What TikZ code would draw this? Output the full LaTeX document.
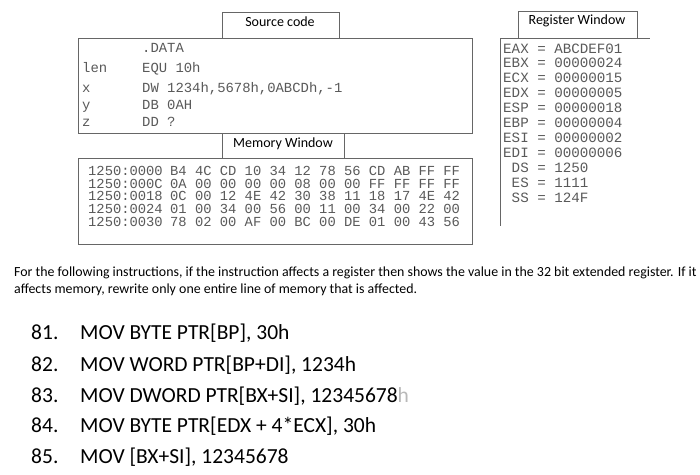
\documentclass[tikz,border=0pt]{standalone}
\usepackage{fontspec}
\setmainfont{Carlito}
\newfontfamily\monof{Liberation Mono}
\begin{document}
\begin{tikzpicture}[x=1pt,y=-1pt,
  box/.style={draw=gray!80!black,line width=0.8pt},
  src/.style={anchor=base west,inner sep=0,font=\monof\fontsize{13.9}{14}\selectfont,text=black!65},
  mem/.style={anchor=base west,inner sep=0,font=\monof\fontsize{13.8}{14}\selectfont,text=black!65},
  reg/.style={anchor=base west,inner sep=0,font=\monof\fontsize{14.2}{14}\selectfont,text=black!65},
  tab/.style={anchor=center,inner sep=0,font=\fontsize{14}{15}\selectfont},
  para/.style={anchor=base west,inner sep=0,font=\fontsize{13.9}{15}\selectfont},
  num/.style={anchor=base west,inner sep=0,font=\fontsize{21.5}{22}\selectfont},
  ins/.style={anchor=base west,inner sep=0,font=\fontsize{21.5}{22}\selectfont}]
\useasboundingbox (0,0) rectangle (700,474);
% source code
\draw[box] (222,38) -- (222,12) -- (339,12) -- (339,38);
\node[tab] (st) at (280,22) {Source code};
\draw[box] (78,38) rectangle (472,133);
\node[src] (s1) at (142,52) {.DATA};
\node[src] (s2) at (82,72) {len};
\node[src] (s2b) at (142,72) {EQU 10h};
\node[src] (s3) at (82,92) {x};
\node[src] (s3b) at (142,92) {DW 1234h,5678h,0ABCDh,-1};
\node[src] (s4) at (82,109) {y};
\node[src] (s4b) at (142,109) {DB 0AH};
\node[src] (s5) at (82,126) {z};
\node[src] (s5b) at (142,126) {DD ?};
% memory
\draw[box] (222,158) -- (222,133) -- (344,133) -- (344,158);
\node[tab] (mt) at (283,144) {Memory Window};
\draw[box] (78,158) rectangle (472,244);
\foreach \a/\b [count=\i] in {1250:0000/B4 4C CD 10 34 12 78 56 CD AB FF FF,
  1250:000C/0A 00 00 00 00 08 00 00 FF FF FF FF,
  1250:0018/0C 00 12 4E 42 30 38 11 18 17 4E 42,
  1250:0024/01 00 34 00 56 00 11 00 34 00 22 00,
  1250:0030/78 02 00 AF 00 BC 00 DE 01 00 43 56}{
  \node[mem] (ma\i) at (88,{162.5+12.8*\i}) {\a};
  \node[mem] (mb\i) at (170,{162.5+12.8*\i}) {\b};
}
% register
\draw[box] (518,38) -- (518,11) -- (637,11) -- (637,38);
\node[tab] (rt) at (577,21) {Register Window};
\draw[box] (500,38) -- (650,38);
\draw[box] (500,38) -- (500,226);
\foreach \t [count=\i] in {EAX = ABCDEF01,EBX = 00000024,ECX = 00000015,EDX = 00000005,ESP = 00000018,EBP = 00000004,ESI = 00000002,EDI = 00000006,{\ DS = 1250},{\ ES = 1111},{\ SS = 124F}}
  \node[reg] (r\i) at (503,{38.1+14.9*\i}) {\t};
% paragraph
\node[para] (p1) at (14,276) {For the following instructions, if the instruction affects a register then shows the value in the 32 bit extended register. If it};
\node[para] (p2) at (14,293) {affects memory, rewrite only one entire line of memory that is affected.};
\foreach \n/\t/\yy in {81/{MOV BYTE PTR[BP], 30h}/339,
  82/{MOV WORD PTR[BP+DI], 1234h}/371,
  83/{MOV DWORD PTR[BX+SI], 12345678\textcolor{gray!55}{h}}/402,
  84/{MOV BYTE PTR[EDX + 4*ECX], 30h}/432,
  85/{MOV [BX+SI], 12345678}/463}{
  \node[num] (n\n) at (31,\yy) {\n.};
  \node[ins] (i\n) at (80,\yy) {\t};
}
\end{tikzpicture}
\end{document}
